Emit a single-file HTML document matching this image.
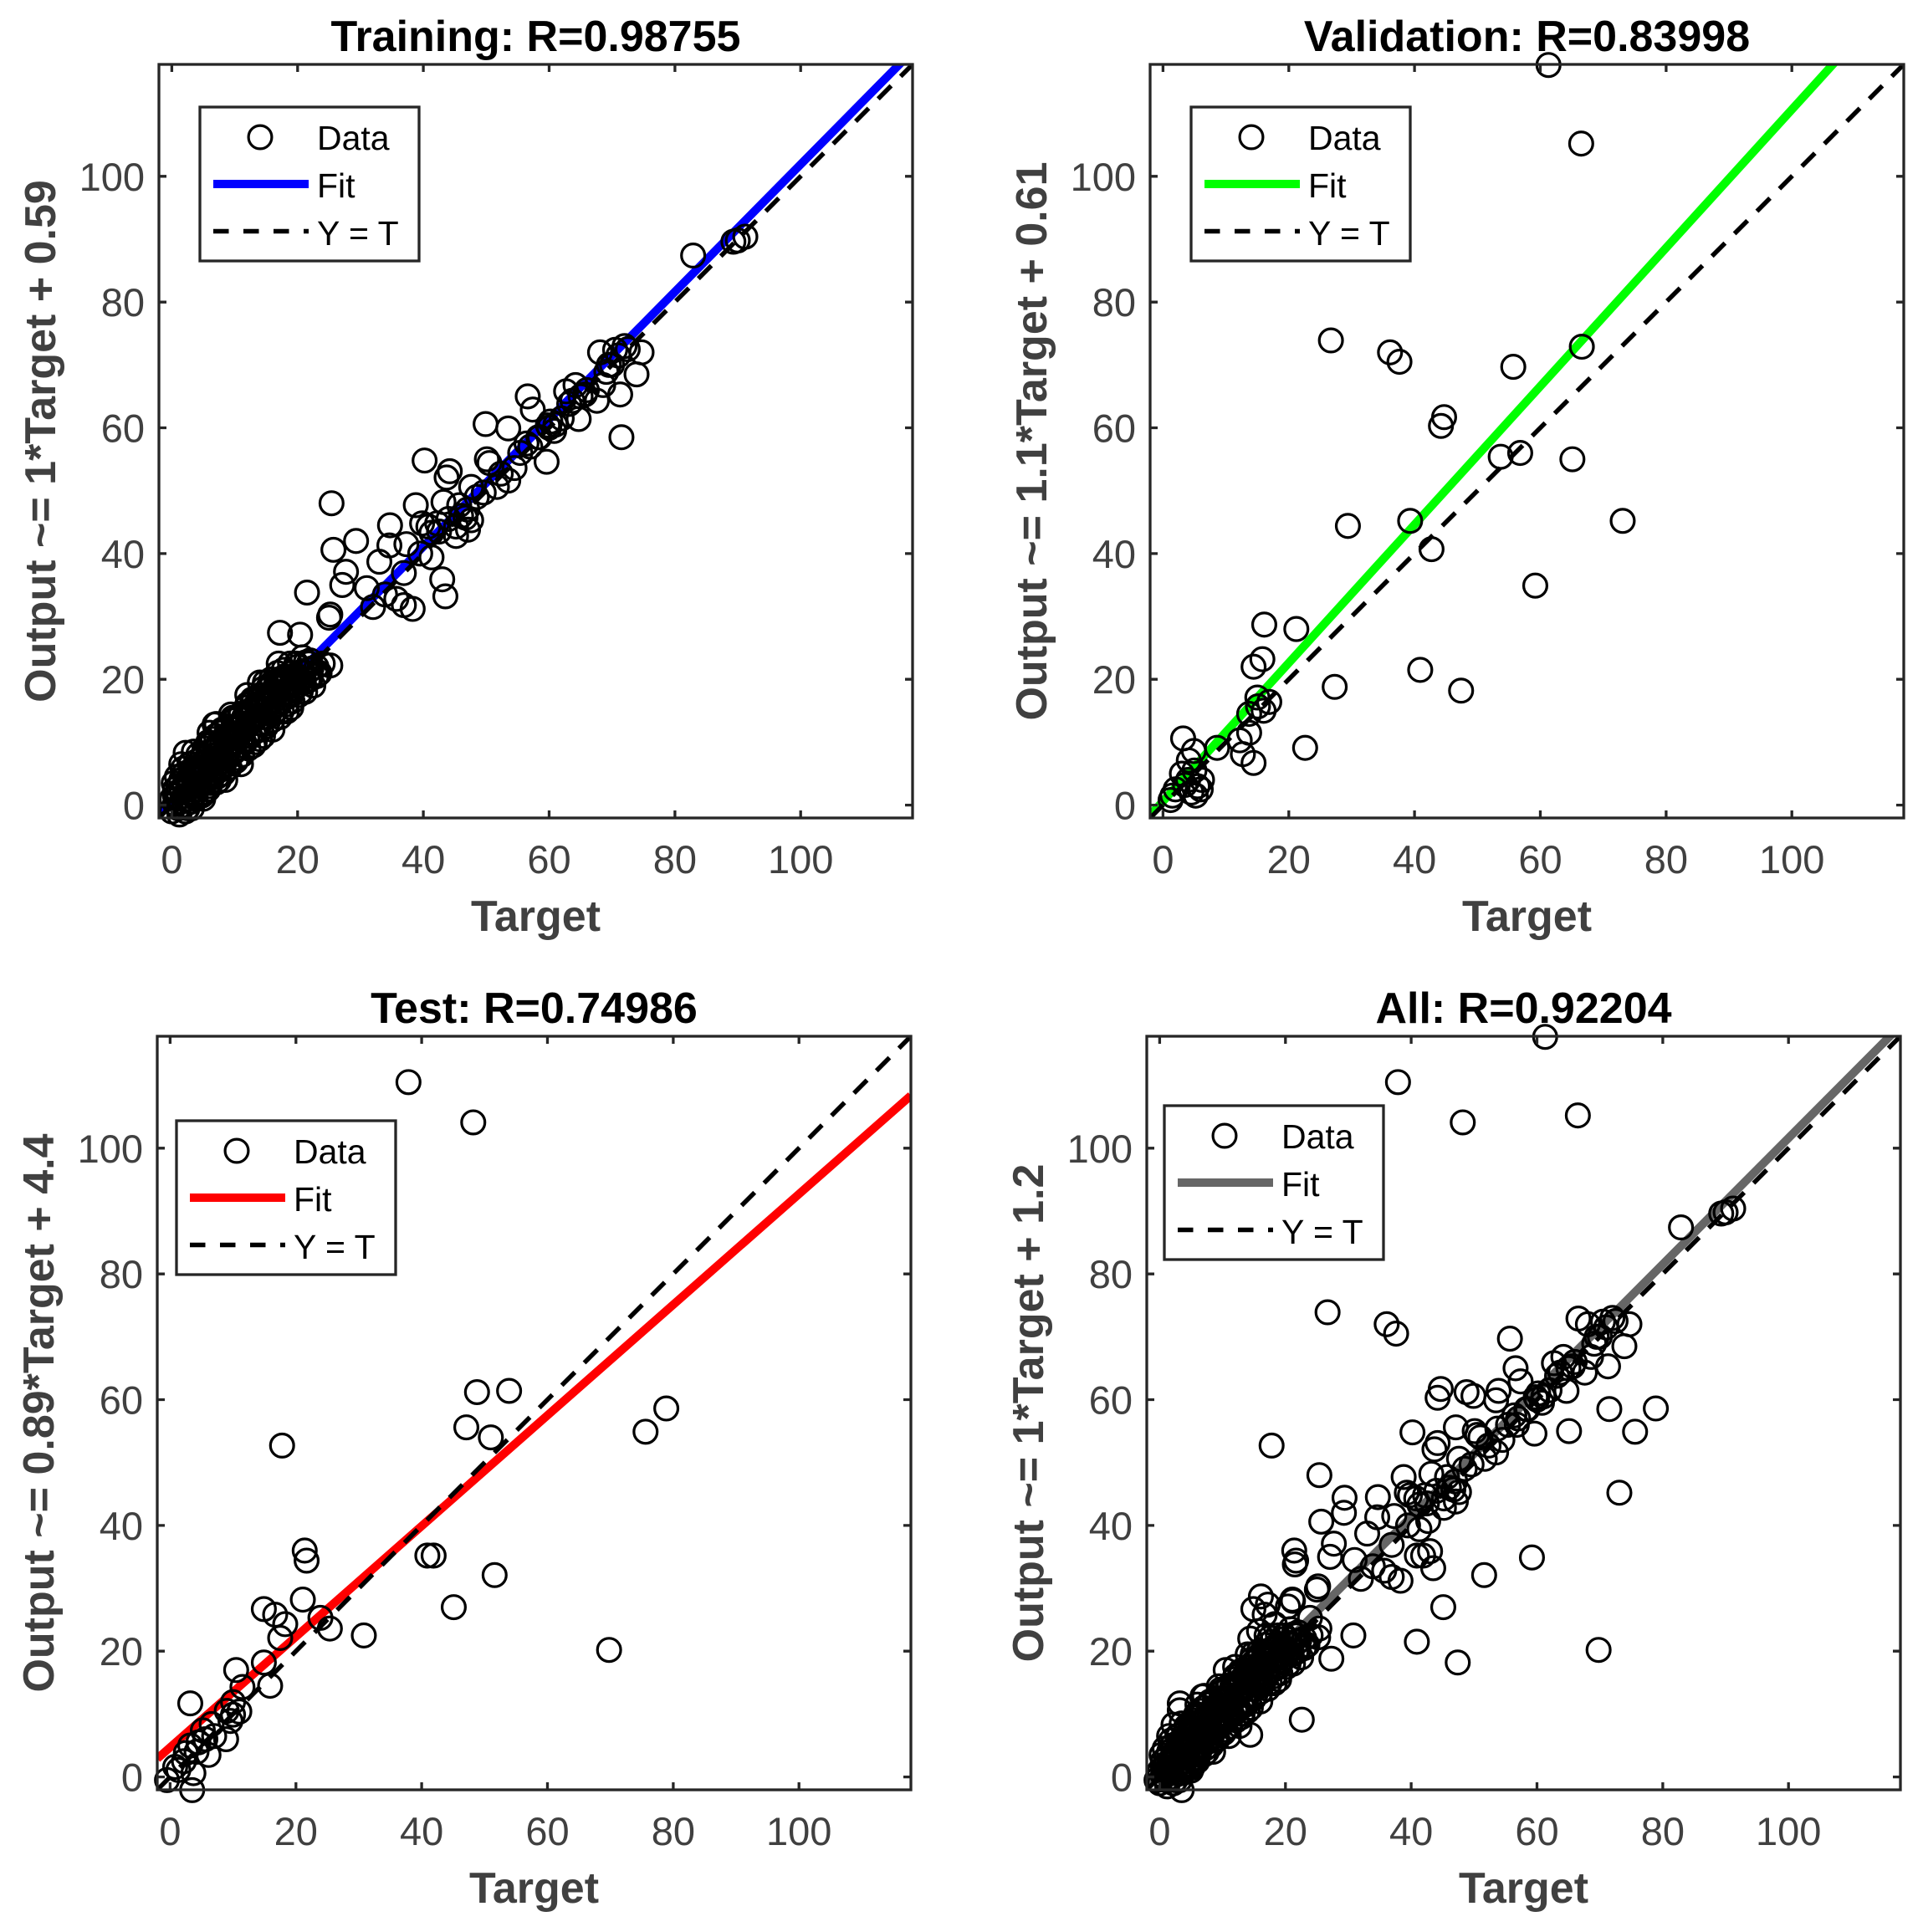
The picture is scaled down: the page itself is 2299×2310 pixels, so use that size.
<!DOCTYPE html>
<html><head><meta charset="utf-8"><style>
html,body{margin:0;padding:0;background:#fff;}
svg{display:block;}
text{font-family:"Liberation Sans",Arial,sans-serif;}
.tk{font-size:47px;fill:#404040;}
.tx{text-anchor:middle;}
.ty{text-anchor:end;}
.ttl{font-size:52px;font-weight:bold;fill:#000;text-anchor:middle;}
.lab{font-size:52px;font-weight:bold;fill:#404040;text-anchor:middle;}
.lg{font-size:41px;fill:#000;}
</style></head><body>
<svg width="2299" height="2310" viewBox="0 0 2299 2310" xmlns="http://www.w3.org/2000/svg">
<defs>
<clipPath id="cp"><rect x="0" y="0" width="901" height="901"/></clipPath>
<g id="R" fill="none" stroke="#000" stroke-width="0.43">
<circle cx="82.9" cy="87.4" r="1.85"/><circle cx="89.3" cy="89.6" r="1.85"/><circle cx="91.2" cy="90.4" r="1.85"/><circle cx="90.0" cy="89.8" r="1.85"/>
<circle cx="68.1" cy="72.0" r="1.85"/><circle cx="70.5" cy="72.4" r="1.85"/><circle cx="72.0" cy="73.0" r="1.85"/><circle cx="74.7" cy="72.0" r="1.85"/>
<circle cx="73.9" cy="68.5" r="1.85"/><circle cx="71.3" cy="65.3" r="1.85"/><circle cx="71.5" cy="58.5" r="1.85"/><circle cx="69.1" cy="68.9" r="1.85"/>
<circle cx="68.6" cy="66.8" r="1.85"/><circle cx="67.6" cy="64.3" r="1.85"/><circle cx="64.7" cy="61.4" r="1.85"/><circle cx="62.7" cy="65.8" r="1.85"/>
<circle cx="64.2" cy="66.8" r="1.85"/><circle cx="63.7" cy="64.3" r="1.85"/><circle cx="65.7" cy="65.3" r="1.85"/><circle cx="56.6" cy="65.0" r="1.85"/>
<circle cx="57.4" cy="62.9" r="1.85"/><circle cx="59.8" cy="60.4" r="1.85"/><circle cx="60.8" cy="59.5" r="1.85"/><circle cx="58.3" cy="58.5" r="1.85"/>
<circle cx="59.6" cy="54.6" r="1.85"/><circle cx="56.4" cy="57.5" r="1.85"/><circle cx="55.4" cy="56.0" r="1.85"/><circle cx="49.9" cy="60.6" r="1.85"/>
<circle cx="53.5" cy="59.9" r="1.85"/><circle cx="50.1" cy="55.0" r="1.85"/><circle cx="50.5" cy="54.4" r="1.85"/><circle cx="52.3" cy="52.7" r="1.85"/>
<circle cx="53.5" cy="51.6" r="1.85"/><circle cx="54.5" cy="53.6" r="1.85"/><circle cx="51.7" cy="50.6" r="1.85"/><circle cx="49.6" cy="49.7" r="1.85"/>
<circle cx="47.6" cy="50.6" r="1.85"/><circle cx="40.2" cy="54.8" r="1.85"/><circle cx="44.2" cy="53.1" r="1.85"/><circle cx="43.7" cy="52.1" r="1.85"/>
<circle cx="43.2" cy="48.2" r="1.85"/><circle cx="45.7" cy="47.7" r="1.85"/><circle cx="46.7" cy="45.7" r="1.85"/><circle cx="47.6" cy="45.3" r="1.85"/>
<circle cx="45.2" cy="44.3" r="1.85"/><circle cx="45.2" cy="42.8" r="1.85"/><circle cx="47.1" cy="43.8" r="1.85"/><circle cx="42.2" cy="44.8" r="1.85"/>
<circle cx="40.8" cy="44.3" r="1.85"/><circle cx="39.8" cy="44.8" r="1.85"/><circle cx="41.3" cy="43.3" r="1.85"/><circle cx="38.8" cy="47.7" r="1.85"/>
<circle cx="43.0" cy="35.9" r="1.85"/><circle cx="43.5" cy="33.2" r="1.85"/><circle cx="41.3" cy="39.4" r="1.85"/><circle cx="25.4" cy="48.0" r="1.85"/>
<circle cx="25.7" cy="40.6" r="1.85"/><circle cx="29.3" cy="42.0" r="1.85"/><circle cx="34.7" cy="44.5" r="1.85"/><circle cx="34.6" cy="41.3" r="1.85"/>
<circle cx="37.3" cy="41.5" r="1.85"/><circle cx="27.7" cy="37.1" r="1.85"/><circle cx="27.1" cy="35.0" r="1.85"/><circle cx="33.0" cy="38.7" r="1.85"/>
<circle cx="31.0" cy="34.5" r="1.85"/><circle cx="32.0" cy="31.5" r="1.85"/><circle cx="33.9" cy="33.5" r="1.85"/><circle cx="36.9" cy="36.9" r="1.85"/>
<circle cx="36.9" cy="31.8" r="1.85"/><circle cx="38.3" cy="31.2" r="1.85"/><circle cx="35.7" cy="32.8" r="1.85"/><circle cx="21.5" cy="33.8" r="1.85"/>
<circle cx="25.2" cy="30.3" r="1.85"/><circle cx="25.0" cy="29.8" r="1.85"/><circle cx="17.2" cy="27.4" r="1.85"/><circle cx="20.4" cy="27.1" r="1.85"/>
<circle cx="25.2" cy="22.2" r="1.85"/><circle cx="21.3" cy="22.7" r="1.85"/><circle cx="22.2" cy="21.7" r="1.85"/><circle cx="20.8" cy="21.3" r="1.85"/>
<circle cx="23.2" cy="20.8" r="1.85"/><circle cx="21.7" cy="19.8" r="1.85"/><circle cx="19.3" cy="19.3" r="1.85"/><circle cx="18.3" cy="20.3" r="1.85"/>
<circle cx="16.9" cy="19.3" r="1.85"/><circle cx="15.4" cy="18.8" r="1.85"/><circle cx="18.3" cy="14.9" r="1.85"/><circle cx="15.4" cy="17.3" r="1.85"/>
<circle cx="2.2" cy="8.3" r="1.85"/><circle cx="7.1" cy="12.9" r="1.85"/><circle cx="9.4" cy="14.4" r="1.85"/><circle cx="7.1" cy="3.6" r="1.85"/>
<circle cx="6.8" cy="12.8" r="1.85"/><circle cx="9.7" cy="13.9" r="1.85"/>
<circle cx="57" cy="57" r="1.85"/><circle cx="58.5" cy="58.5" r="1.85"/><circle cx="60" cy="60" r="1.85"/><circle cx="61" cy="60.5" r="1.85"/>
<circle cx="62" cy="61.5" r="1.85"/><circle cx="65" cy="65" r="1.85"/><circle cx="66" cy="66" r="1.85"/><circle cx="70" cy="70" r="1.85"/>
<circle cx="71" cy="71.5" r="1.85"/><circle cx="69.5" cy="70" r="1.85"/><circle cx="72.5" cy="72.5" r="1.85"/><circle cx="47" cy="47" r="1.85"/>
<circle cx="48.5" cy="49" r="1.85"/><circle cx="46" cy="46" r="1.85"/><circle cx="44" cy="45.5" r="1.85"/><circle cx="42.5" cy="43.5" r="1.85"/>
<circle cx="39.5" cy="40" r="1.85"/><circle cx="60.2" cy="61" r="1.85"/><circle cx="63.2" cy="63.8" r="1.85"/>
<circle cx="0.5" cy="0.2" r="1.85"/><circle cx="0.5" cy="1.5" r="1.85"/><circle cx="0.5" cy="2.5" r="1.85"/><circle cx="1" cy="-0.5" r="1.85"/>
<circle cx="1" cy="1" r="1.85"/><circle cx="1" cy="2" r="1.85"/><circle cx="1" cy="3" r="1.85"/><circle cx="1.5" cy="0.5" r="1.85"/>
<circle cx="1.5" cy="2.5" r="1.85"/><circle cx="1.5" cy="4" r="1.85"/><circle cx="2" cy="0" r="1.85"/><circle cx="2" cy="1.5" r="1.85"/>
<circle cx="2" cy="3" r="1.85"/><circle cx="2" cy="5" r="1.85"/><circle cx="2.5" cy="1" r="1.85"/><circle cx="2.5" cy="2.5" r="1.85"/>
<circle cx="2.5" cy="4" r="1.85"/><circle cx="3" cy="0.5" r="1.85"/><circle cx="3" cy="2" r="1.85"/><circle cx="3" cy="3.5" r="1.85"/>
<circle cx="3" cy="5.5" r="1.85"/><circle cx="3" cy="6.5" r="1.85"/><circle cx="3.5" cy="1.5" r="1.85"/><circle cx="3.5" cy="3" r="1.85"/>
<circle cx="3.5" cy="4.5" r="1.85"/><circle cx="4" cy="2.5" r="1.85"/><circle cx="4" cy="4" r="1.85"/><circle cx="4" cy="5.5" r="1.85"/>
<circle cx="4" cy="7" r="1.85"/><circle cx="4.5" cy="3" r="1.85"/><circle cx="4.5" cy="5" r="1.85"/><circle cx="4.5" cy="6" r="1.85"/>
<circle cx="5" cy="2" r="1.85"/><circle cx="5" cy="3.5" r="1.85"/><circle cx="5" cy="5" r="1.85"/><circle cx="5" cy="6.5" r="1.85"/>
<circle cx="5" cy="8" r="1.85"/><circle cx="5.5" cy="4" r="1.85"/><circle cx="5.5" cy="6" r="1.85"/><circle cx="5.5" cy="7.5" r="1.85"/>
<circle cx="6" cy="3" r="1.85"/><circle cx="6" cy="5" r="1.85"/><circle cx="6" cy="6.5" r="1.85"/><circle cx="6" cy="8.5" r="1.85"/>
<circle cx="6" cy="9.5" r="1.85"/><circle cx="6.5" cy="4.5" r="1.85"/><circle cx="6.5" cy="7" r="1.85"/><circle cx="6.5" cy="10.5" r="1.85"/>
<circle cx="7" cy="6" r="1.85"/><circle cx="7" cy="8" r="1.85"/><circle cx="7" cy="11" r="1.85"/><circle cx="7.5" cy="5.5" r="1.85"/>
<circle cx="7.5" cy="7.5" r="1.85"/><circle cx="7.5" cy="9.5" r="1.85"/><circle cx="8" cy="6" r="1.85"/><circle cx="8" cy="8" r="1.85"/>
<circle cx="8" cy="10" r="1.85"/><circle cx="8" cy="12" r="1.85"/><circle cx="8.5" cy="7" r="1.85"/><circle cx="8.5" cy="9" r="1.85"/>
<circle cx="8.5" cy="11" r="1.85"/><circle cx="9" cy="6.5" r="1.85"/><circle cx="9" cy="8.5" r="1.85"/><circle cx="9" cy="10.5" r="1.85"/>
<circle cx="9" cy="12.5" r="1.85"/><circle cx="9.5" cy="8" r="1.85"/><circle cx="9.5" cy="10" r="1.85"/><circle cx="9.5" cy="11.5" r="1.85"/>
<circle cx="10" cy="8.5" r="1.85"/><circle cx="10" cy="10" r="1.85"/><circle cx="10" cy="12" r="1.85"/><circle cx="10" cy="13.5" r="1.85"/>
<circle cx="10.5" cy="9" r="1.85"/><circle cx="10.5" cy="11" r="1.85"/><circle cx="10.5" cy="12.5" r="1.85"/><circle cx="11" cy="9.5" r="1.85"/>
<circle cx="11" cy="11.5" r="1.85"/><circle cx="11" cy="13" r="1.85"/><circle cx="11" cy="14.5" r="1.85"/><circle cx="11.5" cy="10" r="1.85"/>
<circle cx="11.5" cy="12" r="1.85"/><circle cx="11.5" cy="14" r="1.85"/><circle cx="12" cy="10.5" r="1.85"/><circle cx="12" cy="12.5" r="1.85"/>
<circle cx="12" cy="14.5" r="1.85"/><circle cx="12" cy="16" r="1.85"/><circle cx="12.5" cy="11" r="1.85"/><circle cx="12.5" cy="13" r="1.85"/>
<circle cx="12.5" cy="15" r="1.85"/><circle cx="13" cy="11.5" r="1.85"/><circle cx="13" cy="13.5" r="1.85"/><circle cx="13" cy="15.5" r="1.85"/>
<circle cx="13" cy="16.5" r="1.85"/><circle cx="13.5" cy="12" r="1.85"/><circle cx="13.5" cy="14" r="1.85"/><circle cx="13.5" cy="16" r="1.85"/>
<circle cx="14" cy="10.5" r="1.85"/><circle cx="14" cy="13" r="1.85"/><circle cx="14" cy="15" r="1.85"/><circle cx="14" cy="17.5" r="1.85"/>
<circle cx="14.5" cy="11" r="1.85"/><circle cx="14.5" cy="14" r="1.85"/><circle cx="14.5" cy="16.5" r="1.85"/><circle cx="14.5" cy="18.5" r="1.85"/>
<circle cx="15" cy="12.5" r="1.85"/><circle cx="15" cy="15" r="1.85"/><circle cx="15" cy="17" r="1.85"/><circle cx="15.5" cy="14.5" r="1.85"/>
<circle cx="15.5" cy="16.5" r="1.85"/><circle cx="15.5" cy="18.5" r="1.85"/><circle cx="16" cy="13.5" r="1.85"/><circle cx="16" cy="15.5" r="1.85"/>
<circle cx="16" cy="18" r="1.85"/><circle cx="16" cy="19.5" r="1.85"/><circle cx="16.5" cy="15" r="1.85"/><circle cx="16.5" cy="17.5" r="1.85"/>
<circle cx="16.5" cy="19" r="1.85"/><circle cx="17" cy="16" r="1.85"/><circle cx="17" cy="18" r="1.85"/><circle cx="17" cy="20" r="1.85"/>
<circle cx="17.5" cy="15" r="1.85"/><circle cx="17.5" cy="17.5" r="1.85"/><circle cx="17.5" cy="19.5" r="1.85"/><circle cx="18" cy="17" r="1.85"/>
<circle cx="18" cy="19" r="1.85"/><circle cx="18" cy="20.5" r="1.85"/><circle cx="18.5" cy="18" r="1.85"/><circle cx="18.5" cy="19.5" r="1.85"/>
<circle cx="19" cy="17.5" r="1.85"/><circle cx="19" cy="19" r="1.85"/><circle cx="19" cy="21" r="1.85"/><circle cx="19.5" cy="18.5" r="1.85"/>
<circle cx="19.5" cy="20.5" r="1.85"/><circle cx="20" cy="19" r="1.85"/><circle cx="20" cy="20.5" r="1.85"/><circle cx="20" cy="22" r="1.85"/>
<circle cx="21" cy="19.5" r="1.85"/><circle cx="21" cy="21" r="1.85"/><circle cx="22" cy="20" r="1.85"/><circle cx="22" cy="21.5" r="1.85"/>
<circle cx="22" cy="23" r="1.85"/><circle cx="23" cy="20.5" r="1.85"/><circle cx="23" cy="22" r="1.85"/>
<circle cx="0" cy="-1" r="1.85"/><circle cx="0" cy="1" r="1.85"/><circle cx="0.3" cy="3.5" r="1.85"/><circle cx="0.8" cy="4.5" r="1.85"/>
<circle cx="1.2" cy="-1.5" r="1.85"/><circle cx="1.8" cy="5.8" r="1.85"/><circle cx="2.2" cy="-1" r="1.85"/><circle cx="2.8" cy="6.5" r="1.85"/>
<circle cx="3.2" cy="-0.5" r="1.85"/><circle cx="3.8" cy="1" r="1.85"/><circle cx="3.8" cy="6" r="1.85"/><circle cx="4.2" cy="8" r="1.85"/>
<circle cx="4.8" cy="1.5" r="1.85"/><circle cx="4.8" cy="7.5" r="1.85"/><circle cx="5.2" cy="9" r="1.85"/><circle cx="5.8" cy="2.5" r="1.85"/>
<circle cx="5.8" cy="10" r="1.85"/><circle cx="6.2" cy="3.5" r="1.85"/><circle cx="6.8" cy="9" r="1.85"/><circle cx="7.2" cy="4.5" r="1.85"/>
<circle cx="7.8" cy="11.5" r="1.85"/><circle cx="8.2" cy="5" r="1.85"/><circle cx="8.8" cy="12.5" r="1.85"/><circle cx="9.2" cy="6" r="1.85"/>
<circle cx="9.8" cy="13.5" r="1.85"/><circle cx="10.2" cy="7" r="1.85"/><circle cx="10.8" cy="14" r="1.85"/><circle cx="11.2" cy="8" r="1.85"/>
<circle cx="11.8" cy="15.5" r="1.85"/><circle cx="12.2" cy="9" r="1.85"/><circle cx="12.8" cy="16.8" r="1.85"/><circle cx="13.2" cy="10" r="1.85"/>
<circle cx="13.8" cy="17" r="1.85"/><circle cx="14.2" cy="12" r="1.85"/><circle cx="14.8" cy="19.5" r="1.85"/><circle cx="15.2" cy="13" r="1.85"/>
<circle cx="15.8" cy="20" r="1.85"/><circle cx="16.2" cy="14.5" r="1.85"/><circle cx="16.8" cy="21" r="1.85"/><circle cx="17.2" cy="14" r="1.85"/>
<circle cx="17.8" cy="21.5" r="1.85"/><circle cx="18.2" cy="16" r="1.85"/><circle cx="18.8" cy="22.5" r="1.85"/><circle cx="19.2" cy="16.5" r="1.85"/>
<circle cx="19.8" cy="22.5" r="1.85"/><circle cx="20.2" cy="17.5" r="1.85"/><circle cx="20.8" cy="23.5" r="1.85"/><circle cx="21.2" cy="18" r="1.85"/>
<circle cx="21.8" cy="22.5" r="1.85"/><circle cx="22.5" cy="19" r="1.85"/><circle cx="23.5" cy="21" r="1.85"/><circle cx="24" cy="22.5" r="1.85"/>
<circle cx="20.5" cy="18" r="1.85"/><circle cx="19" cy="15.5" r="1.85"/><circle cx="16" cy="12" r="1.85"/><circle cx="13" cy="9.5" r="1.85"/>
<circle cx="10.5" cy="7.5" r="1.85"/><circle cx="7.5" cy="4" r="1.85"/><circle cx="5" cy="1" r="1.85"/><circle cx="2.5" cy="-0.5" r="1.85"/>
<circle cx="1.5" cy="6.5" r="1.85"/><circle cx="3.5" cy="8.5" r="1.85"/><circle cx="6" cy="11.5" r="1.85"/><circle cx="8.5" cy="4" r="1.85"/>
<circle cx="11" cy="6.5" r="1.85"/><circle cx="12" cy="17.5" r="1.85"/><circle cx="14" cy="19.5" r="1.85"/><circle cx="17" cy="22.5" r="1.85"/>
</g>
<g id="V" fill="none" stroke="#000" stroke-width="0.43">
<circle cx="61.3" cy="117.7" r="1.85"/><circle cx="66.5" cy="105.2" r="1.85"/><circle cx="26.7" cy="73.9" r="1.85"/><circle cx="36.1" cy="72.0" r="1.85"/>
<circle cx="37.6" cy="70.5" r="1.85"/><circle cx="66.6" cy="72.9" r="1.85"/><circle cx="55.7" cy="69.7" r="1.85"/><circle cx="44.7" cy="61.7" r="1.85"/>
<circle cx="44.2" cy="60.3" r="1.85"/><circle cx="53.7" cy="55.4" r="1.85"/><circle cx="56.8" cy="56.0" r="1.85"/><circle cx="65.1" cy="55.0" r="1.85"/>
<circle cx="29.4" cy="44.4" r="1.85"/><circle cx="39.3" cy="45.2" r="1.85"/><circle cx="73.1" cy="45.2" r="1.85"/><circle cx="42.7" cy="40.7" r="1.85"/>
<circle cx="59.2" cy="34.9" r="1.85"/><circle cx="16.1" cy="28.7" r="1.85"/><circle cx="21.2" cy="28.0" r="1.85"/><circle cx="14.4" cy="22.0" r="1.85"/>
<circle cx="15.8" cy="23.2" r="1.85"/><circle cx="40.9" cy="21.5" r="1.85"/><circle cx="27.3" cy="18.8" r="1.85"/><circle cx="47.4" cy="18.2" r="1.85"/>
<circle cx="15.0" cy="17.1" r="1.85"/><circle cx="16.9" cy="16.4" r="1.85"/><circle cx="16.0" cy="15.0" r="1.85"/><circle cx="13.7" cy="14.5" r="1.85"/>
<circle cx="15.1" cy="15.7" r="1.85"/><circle cx="22.6" cy="9.1" r="1.85"/><circle cx="13.7" cy="11.5" r="1.85"/><circle cx="12.2" cy="10.3" r="1.85"/>
<circle cx="8.6" cy="9.1" r="1.85"/><circle cx="12.7" cy="8.1" r="1.85"/><circle cx="14.4" cy="6.7" r="1.85"/><circle cx="3.2" cy="10.6" r="1.85"/>
<circle cx="4.9" cy="8.6" r="1.85"/><circle cx="4.1" cy="7.1" r="1.85"/><circle cx="3.0" cy="5.0" r="1.85"/><circle cx="4.0" cy="4.0" r="1.85"/>
<circle cx="5.5" cy="3.0" r="1.85"/><circle cx="6.0" cy="2.5" r="1.85"/><circle cx="4.5" cy="2.0" r="1.85"/><circle cx="5.0" cy="5.5" r="1.85"/>
<circle cx="2.0" cy="2.5" r="1.85"/><circle cx="1.5" cy="1.5" r="1.85"/><circle cx="1.2" cy="0.8" r="1.85"/><circle cx="3.5" cy="3.2" r="1.85"/>
<circle cx="6.2" cy="4.0" r="1.85"/><circle cx="5.2" cy="1.5" r="1.85"/>
</g>
<g id="E" fill="none" stroke="#000" stroke-width="0.43">
<circle cx="37.9" cy="110.5" r="1.85"/><circle cx="48.2" cy="104.1" r="1.85"/><circle cx="48.8" cy="61.2" r="1.85"/><circle cx="53.9" cy="61.4" r="1.85"/>
<circle cx="78.9" cy="58.6" r="1.85"/><circle cx="47.1" cy="55.6" r="1.85"/><circle cx="51.0" cy="54.0" r="1.85"/><circle cx="75.6" cy="54.9" r="1.85"/>
<circle cx="17.8" cy="52.7" r="1.85"/><circle cx="21.4" cy="36.0" r="1.85"/><circle cx="21.7" cy="34.4" r="1.85"/><circle cx="40.9" cy="35.2" r="1.85"/>
<circle cx="41.9" cy="35.2" r="1.85"/><circle cx="51.6" cy="32.1" r="1.85"/><circle cx="14.9" cy="26.7" r="1.85"/><circle cx="45.1" cy="27.0" r="1.85"/>
<circle cx="21.1" cy="28.2" r="1.85"/><circle cx="16.7" cy="25.8" r="1.85"/><circle cx="18.3" cy="24.3" r="1.85"/><circle cx="23.9" cy="25.3" r="1.85"/>
<circle cx="25.4" cy="23.6" r="1.85"/><circle cx="30.8" cy="22.5" r="1.85"/><circle cx="17.5" cy="22.1" r="1.85"/><circle cx="69.8" cy="20.2" r="1.85"/>
<circle cx="14.9" cy="18.2" r="1.85"/><circle cx="10.5" cy="17.0" r="1.85"/><circle cx="15.9" cy="14.5" r="1.85"/><circle cx="11.5" cy="14.3" r="1.85"/>
<circle cx="3.2" cy="11.7" r="1.85"/><circle cx="10.0" cy="11.9" r="1.85"/><circle cx="11.0" cy="10.4" r="1.85"/><circle cx="9.6" cy="8.9" r="1.85"/>
<circle cx="6.6" cy="8.4" r="1.85"/><circle cx="5.2" cy="7.4" r="1.85"/><circle cx="8.9" cy="6.0" r="1.85"/><circle cx="6.1" cy="3.5" r="1.85"/>
<circle cx="3.7" cy="0.6" r="1.85"/><circle cx="3.5" cy="-2.1" r="1.85"/><circle cx="0.8" cy="1.6" r="1.85"/><circle cx="2.2" cy="2.5" r="1.85"/>
<circle cx="3.2" cy="5.0" r="1.85"/><circle cx="4.2" cy="4.0" r="1.85"/><circle cx="1.3" cy="1.1" r="1.85"/><circle cx="-0.5" cy="-0.5" r="1.85"/>
<circle cx="5.6" cy="6.0" r="1.85"/><circle cx="10.0" cy="9.9" r="1.85"/><circle cx="4.5" cy="5.5" r="1.85"/><circle cx="2.5" cy="3.8" r="1.85"/>
<circle cx="7.0" cy="6.5" r="1.85"/><circle cx="9.0" cy="10.5" r="1.85"/>
</g>
<path id="tks" fill="none" stroke="#262626" stroke-width="3.3" d="M15.4 901v-9M165.8 901v-9M316.1 901v-9M466.5 901v-9M616.9 901v-9M767.2 901v-9M15.4 0v9M165.8 0v9M316.1 0v9M466.5 0v9M616.9 0v9M767.2 0v9M0 885.6h9M0 735.2h9M0 584.9h9M0 434.5h9M0 284.2h9M0 133.8h9M901 885.6h-9M901 735.2h-9M901 584.9h-9M901 434.5h-9M901 284.2h-9M901 133.8h-9"/>
</defs>
<rect x="0" y="0" width="2299" height="2310" fill="#fff"/>

<!-- Panel 1: Training -->
<g transform="translate(190,77)">
<g clip-path="url(#cp)">
<line x1="0" y1="896.8" x2="901" y2="-16" stroke="#0000ff" stroke-width="10"/>
<line x1="0" y1="901" x2="901" y2="0" stroke="#000" stroke-width="5.5" stroke-dasharray="22 16"/>
</g>
<g transform="matrix(7.518 0 0 -7.518 15.41 885.59)"><use href="#R"/></g>
<rect x="0" y="0" width="901" height="901" fill="none" stroke="#262626" stroke-width="3.3"/>
<use href="#tks"/>
<g class="tk tx"><text x="15.4" y="967">0</text><text x="165.8" y="967">20</text><text x="316.1" y="967">40</text><text x="466.5" y="967">60</text><text x="616.9" y="967">80</text><text x="767.2" y="967">100</text></g>
<g class="tk ty"><text x="-17" y="902.6">0</text><text x="-17" y="752.2">20</text><text x="-17" y="601.9">40</text><text x="-17" y="451.5">60</text><text x="-17" y="301.2">80</text><text x="-17" y="150.8">100</text></g>
<g transform="translate(49,51)">
<rect width="262" height="184" fill="#fff" stroke="#262626" stroke-width="3.3"/>
<circle cx="72" cy="36" r="13.9" fill="none" stroke="#000" stroke-width="3.2"/>
<text class="lg" x="140" y="51">Data</text>
<line x1="16" y1="92" x2="130" y2="92" stroke="#0000ff" stroke-width="10"/>
<text class="lg" x="140" y="108">Fit</text>
<line x1="16" y1="148.5" x2="130" y2="148.5" stroke="#000" stroke-width="5.5" stroke-dasharray="18.5 17.5"/>
<text class="lg" x="140" y="165">Y = T</text>
</g>
<text class="ttl" x="450.5" y="-16">Training: R=0.98755</text>
<text class="lab" x="450.5" y="1036">Target</text>
<text class="lab" transform="translate(-124,450.5) rotate(-90)">Output ~= 1*Target + 0.59</text>
</g>

<!-- Panel 2: Validation -->
<g transform="translate(1375,77)">
<g clip-path="url(#cp)">
<line x1="0" y1="897.96" x2="901" y2="-93.2" stroke="#00ff00" stroke-width="10"/>
<line x1="0" y1="901" x2="901" y2="0" stroke="#000" stroke-width="5.5" stroke-dasharray="22 16"/>
</g>
<g transform="matrix(7.518 0 0 -7.518 15.41 885.59)"><use href="#V"/></g>
<rect x="0" y="0" width="901" height="901" fill="none" stroke="#262626" stroke-width="3.3"/>
<use href="#tks"/>
<g class="tk tx"><text x="15.4" y="967">0</text><text x="165.8" y="967">20</text><text x="316.1" y="967">40</text><text x="466.5" y="967">60</text><text x="616.9" y="967">80</text><text x="767.2" y="967">100</text></g>
<g class="tk ty"><text x="-17" y="902.6">0</text><text x="-17" y="752.2">20</text><text x="-17" y="601.9">40</text><text x="-17" y="451.5">60</text><text x="-17" y="301.2">80</text><text x="-17" y="150.8">100</text></g>
<g transform="translate(49,51)">
<rect width="262" height="184" fill="#fff" stroke="#262626" stroke-width="3.3"/>
<circle cx="72" cy="36" r="13.9" fill="none" stroke="#000" stroke-width="3.2"/>
<text class="lg" x="140" y="51">Data</text>
<line x1="16" y1="92" x2="130" y2="92" stroke="#00ff00" stroke-width="10"/>
<text class="lg" x="140" y="108">Fit</text>
<line x1="16" y1="148.5" x2="130" y2="148.5" stroke="#000" stroke-width="5.5" stroke-dasharray="18.5 17.5"/>
<text class="lg" x="140" y="165">Y = T</text>
</g>
<text class="ttl" x="450.5" y="-16">Validation: R=0.83998</text>
<text class="lab" x="450.5" y="1036">Target</text>
<text class="lab" transform="translate(-124,450.5) rotate(-90)">Output ~= 1.1*Target + 0.61</text>
</g>

<!-- Panel 3: Test -->
<g transform="translate(188,1239)">
<g clip-path="url(#cp)">
<line x1="0" y1="863.8" x2="901" y2="70.9" stroke="#ff0000" stroke-width="10"/>
<line x1="0" y1="901" x2="901" y2="0" stroke="#000" stroke-width="5.5" stroke-dasharray="22 16"/>
</g>
<g transform="matrix(7.518 0 0 -7.518 15.41 885.59)"><use href="#E"/></g>
<rect x="0" y="0" width="901" height="901" fill="none" stroke="#262626" stroke-width="3.3"/>
<use href="#tks"/>
<g class="tk tx"><text x="15.4" y="967">0</text><text x="165.8" y="967">20</text><text x="316.1" y="967">40</text><text x="466.5" y="967">60</text><text x="616.9" y="967">80</text><text x="767.2" y="967">100</text></g>
<g class="tk ty"><text x="-17" y="902.6">0</text><text x="-17" y="752.2">20</text><text x="-17" y="601.9">40</text><text x="-17" y="451.5">60</text><text x="-17" y="301.2">80</text><text x="-17" y="150.8">100</text></g>
<g transform="translate(23,101)">
<rect width="262" height="184" fill="#fff" stroke="#262626" stroke-width="3.3"/>
<circle cx="72" cy="36" r="13.9" fill="none" stroke="#000" stroke-width="3.2"/>
<text class="lg" x="140" y="51">Data</text>
<line x1="16" y1="92" x2="130" y2="92" stroke="#ff0000" stroke-width="10"/>
<text class="lg" x="140" y="108">Fit</text>
<line x1="16" y1="148.5" x2="130" y2="148.5" stroke="#000" stroke-width="5.5" stroke-dasharray="18.5 17.5"/>
<text class="lg" x="140" y="165">Y = T</text>
</g>
<text class="ttl" x="450.5" y="-16">Test: R=0.74986</text>
<text class="lab" x="450.5" y="1036">Target</text>
<text class="lab" transform="translate(-124,450.5) rotate(-90)">Output ~= 0.89*Target + 4.4</text>
</g>

<!-- Panel 4: All -->
<g transform="translate(1371,1239)">
<g clip-path="url(#cp)">
<line x1="0" y1="892.04" x2="901" y2="-12.6" stroke="#666666" stroke-width="10"/>
<line x1="0" y1="901" x2="901" y2="0" stroke="#000" stroke-width="5.5" stroke-dasharray="22 16"/>
</g>
<g transform="matrix(7.518 0 0 -7.518 15.41 885.59)"><use href="#R"/><use href="#V"/><use href="#E"/></g>
<rect x="0" y="0" width="901" height="901" fill="none" stroke="#262626" stroke-width="3.3"/>
<use href="#tks"/>
<g class="tk tx"><text x="15.4" y="967">0</text><text x="165.8" y="967">20</text><text x="316.1" y="967">40</text><text x="466.5" y="967">60</text><text x="616.9" y="967">80</text><text x="767.2" y="967">100</text></g>
<g class="tk ty"><text x="-17" y="902.6">0</text><text x="-17" y="752.2">20</text><text x="-17" y="601.9">40</text><text x="-17" y="451.5">60</text><text x="-17" y="301.2">80</text><text x="-17" y="150.8">100</text></g>
<g transform="translate(21,83)">
<rect width="262" height="184" fill="#fff" stroke="#262626" stroke-width="3.3"/>
<circle cx="72" cy="36" r="13.9" fill="none" stroke="#000" stroke-width="3.2"/>
<text class="lg" x="140" y="51">Data</text>
<line x1="16" y1="92" x2="130" y2="92" stroke="#666666" stroke-width="10"/>
<text class="lg" x="140" y="108">Fit</text>
<line x1="16" y1="148.5" x2="130" y2="148.5" stroke="#000" stroke-width="5.5" stroke-dasharray="18.5 17.5"/>
<text class="lg" x="140" y="165">Y = T</text>
</g>
<text class="ttl" x="450.5" y="-16">All: R=0.92204</text>
<text class="lab" x="450.5" y="1036">Target</text>
<text class="lab" transform="translate(-124,450.5) rotate(-90)">Output ~= 1*Target + 1.2</text>
</g>
</svg>
</body></html>
